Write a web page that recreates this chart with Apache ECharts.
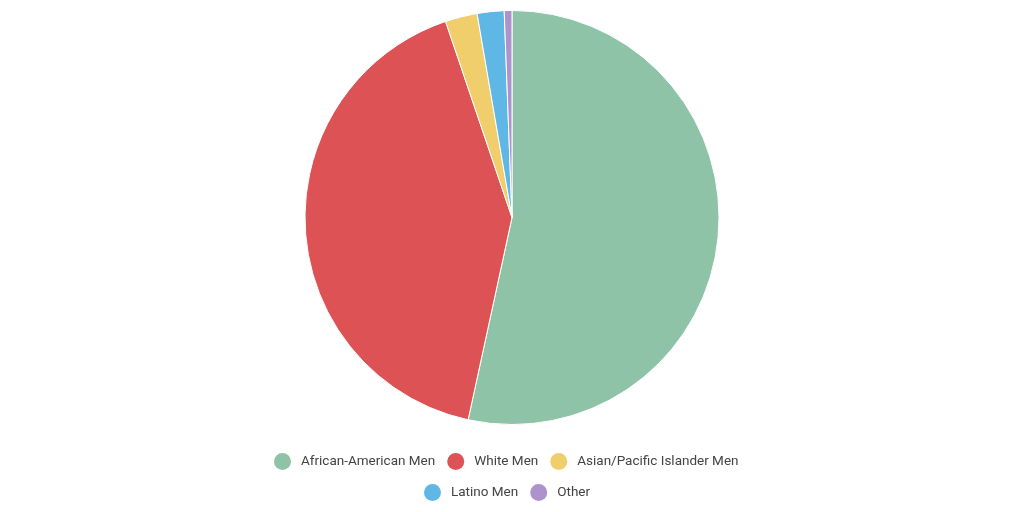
<!DOCTYPE html>
<html><head><meta charset="utf-8">
<script src="https://cdn.jsdelivr.net/npm/echarts@6/dist/echarts.min.js"></script>
<style>html,body{margin:0;padding:0;background:#fff}#c{width:1024px;height:512px}</style>
</head><body><div id="c"></div>
<script>
const categories = ["African-American Men", "White Men", "Asian/Pacific Islander Men", "Latino Men", "Other"];
const values = [53.4, 41.4, 2.5, 2.1, 0.6];
const colors = ["#8fc3a8", "#dd5355", "#f0ce6c", "#5eb7e5", "#ad93cb"];
const legendRow1 = categories.slice(0, 3);
const legendRow2 = categories.slice(3);

const legendBase = {
  icon: 'circle',
  itemWidth: 17,
  itemHeight: 17,
  itemGap: 12,
  padding: 5,
  itemStyle: { borderWidth: 0 },
  textStyle: { fontFamily: 'Roboto', fontSize: 13.5, color: '#444', padding: [0, 0, 0, 5] }
};

const chart = echarts.init(document.getElementById('c'));
chart.setOption({
  animation: false,
  color: colors,
  legend: [
    Object.assign({}, legendBase, { data: legendRow1, top: 448, left: 269 }),
    Object.assign({}, legendBase, { data: legendRow2, top: 479, left: 419 })
  ],
  series: [{
    type: 'pie',
    center: [512, 217.5],
    radius: [0, 207],
    startAngle: 90,
    clockwise: true,
    label: { show: false },
    labelLine: { show: false },
    itemStyle: { borderColor: '#fff', borderWidth: 1 },
    data: categories.map((n, i) => ({ name: n, value: values[i] }))
  }]
});
</script></body></html>
